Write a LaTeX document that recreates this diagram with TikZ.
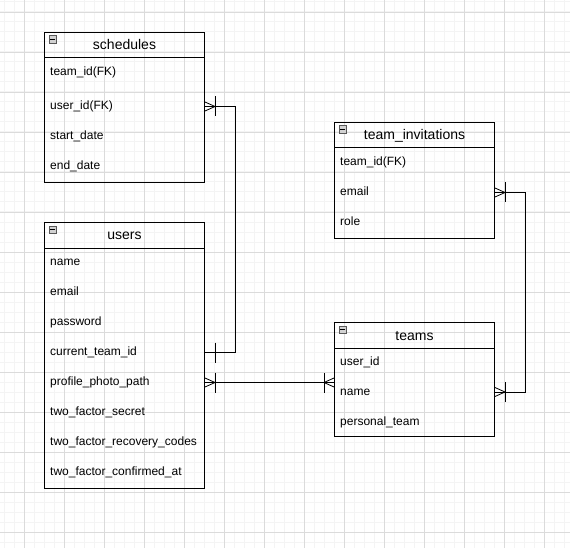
\documentclass[tikz,border=0pt]{standalone}
\usepackage{fontspec}
\setmainfont{Liberation Sans}

\tikzset{
	entity/.style={draw, line width=1pt, anchor=north west, minimum width=160pt, inner sep=0},
	title/.style={inner sep=0, text height=10pt, text depth=3pt, font=\fontsize{14}{16}\selectfont},
	field/.style={anchor=west, inner sep=0, text height=8.6pt, text depth=2.4pt, font=\fontsize{12}{14}\selectfont},
	toggle/.style={draw=gray!70!black, fill=gray!35, line width=0.5pt, minimum size=7.5pt, inner sep=0},
	relation/.style={draw, line width=1pt},
	minorgrid/.style={draw=gray!9, line width=1pt},
	majorgrid/.style={draw=gray!28, line width=0.6pt},
	manyend/.pic={\draw[line width=0.8pt] (0,-4.5) -- (10,0) -- (0,4.5); \draw[line width=1pt] (10,-10) -- (10,10);},
	oneend/.pic={\draw[line width=1pt] (10,-10) -- (10,10);}
}

\begin{document}
\begin{tikzpicture}[x=1pt,y=-1pt]
		\useasboundingbox (0,0) rectangle (570,548);
		% grid
		\foreach \gx in {4,14,...,564} \draw[minorgrid] (\gx,0) -- (\gx,548);
		\foreach \gy in {2,12,...,542} \draw[minorgrid] (0,\gy) -- (570,\gy);
		\foreach \gx in {24,64,...,544} \draw[majorgrid] (\gx,0) -- (\gx,548);
		\foreach \gy in {12,52,...,532} \draw[majorgrid] (0,\gy) -- (570,\gy);
		
		% schedules
		\node[entity, minimum height=150pt] (schedules) at (44,32) {};
		\draw[line width=1pt] ([yshift=-26pt]schedules.north west) -- ([yshift=-26pt]schedules.north east);
		\node[title] (schedules-title) at ([yshift=-14.5pt]schedules.north) {schedules};
		\node[toggle] (schedules-toggle) at (52.5,39.5) {\rule[-0.5pt]{4.5pt}{1.2pt}};
		\node[field] (sched-team) at (50,72.5) {team\_id(FK)};
		\node[field] (sched-user) at (50,106.5) {user\_id(FK)};
		\node[field] (sched-start) at (50,136.5) {start\_date};
		\node[field] (sched-end) at (50,166.5) {end\_date};
		
		% users
		\node[entity, minimum height=266pt] (users) at (44,222) {};
		\draw[line width=1pt] ([yshift=-26pt]users.north west) -- ([yshift=-26pt]users.north east);
		\node[title] (users-title) at ([yshift=-14.5pt]users.north) {users};
		\node[toggle] (users-toggle) at (52.5,229.5) {\rule[-0.5pt]{4.5pt}{1.2pt}};
		\node[field] (users-name) at (50,262.5) {name};
		\node[field] (users-email) at (50,292.5) {email};
		\node[field] (users-password) at (50,322.5) {password};
		\node[field] (users-team) at (50,352.5) {current\_team\_id};
		\node[field] (users-photo) at (50,382.5) {profile\_photo\_path};
		\node[field] (users-secret) at (50,412.5) {two\_factor\_secret};
		\node[field] (users-codes) at (50,442.5) {two\_factor\_recovery\_codes};
		\node[field] (users-confirmed) at (50,472.5) {two\_factor\_confirmed\_at};
		
		% team_invitations
		\node[entity, minimum height=116pt] (invites) at (334,122) {};
		\draw[line width=1pt] ([yshift=-26pt]invites.north west) -- ([yshift=-26pt]invites.north east);
		\node[title] (invites-title) at ([yshift=-14.5pt]invites.north) {team\_invitations};
		\node[toggle] (invites-toggle) at (342.5,129.5) {\rule[-0.5pt]{4.5pt}{1.2pt}};
		\node[field] (inv-team) at (340,162.5) {team\_id(FK)};
		\node[field] (inv-email) at (340,192.5) {email};
		\node[field] (inv-role) at (340,222.5) {role};
		
		% teams
		\node[entity, minimum height=114pt] (teams) at (334,322) {};
		\draw[line width=1pt] ([yshift=-26pt]teams.north west) -- ([yshift=-26pt]teams.north east);
		\node[title] (teams-title) at ([yshift=-14.5pt]teams.north) {teams};
		\node[toggle] (teams-toggle) at (342.5,329.5) {\rule[-0.5pt]{4.5pt}{1.2pt}};
		\node[field] (teams-user) at (340,362) {user\_id};
		\node[field] (teams-name) at (340,392) {name};
		\node[field] (teams-personal) at (340,422) {personal\_team};
		
		% relations
		\draw[relation] (schedules.east |- sched-user) -- ++(30,0) |- (users.east |- users-team);
		\pic at (schedules.east |- sched-user) {manyend};
		\pic at (users.east |- users-team) {oneend};
		
		\draw[relation] (users.east |- users-photo) -- (teams.west |- users-photo);
		\pic at (users.east |- users-photo) {manyend};
		\pic[rotate=180] at (teams.west |- users-photo) {manyend};
		
		\draw[relation] (invites.east |- inv-email) -- ++(30,0) |- (teams.east |- teams-name);
		\pic at (invites.east |- inv-email) {manyend};
		\pic at (teams.east |- teams-name) {manyend};
\end{tikzpicture}
\end{document}
